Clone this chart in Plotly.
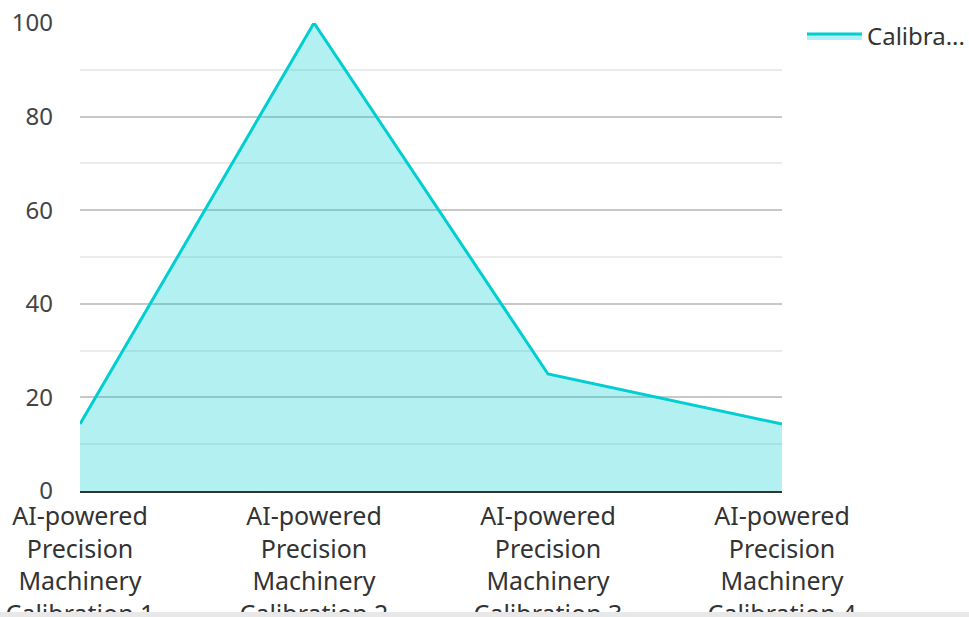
import plotly.graph_objects as go

categories = [
    "AI-powered Precision Machinery Calibration 1",
    "AI-powered Precision Machinery Calibration 2",
    "AI-powered Precision Machinery Calibration 3",
    "AI-powered Precision Machinery Calibration 4",
]
values = [14.3, 100, 25, 14.3]
series_name = "Calibra..."
y_tickvals = [0, 20, 40, 60, 80, 100]


def wrap(label):
    words = label.split(" ")
    lines = [words[0], words[1], words[2], " ".join(words[3:])]
    return "<br>".join(lines)


W, H = 969, 617
L, R, T, B = 80, 782, 23, 491
PH = B - T
PW = R - L

fig = go.Figure()
fig.add_trace(go.Scatter(
    x=[wrap(c) for c in categories],
    y=values,
    mode="lines",
    name=series_name,
    fill="tozeroy",
    fillcolor="rgba(0,206,209,0.3)",
    line=dict(color="#00CED1", width=3),
    showlegend=True,
))

fig.update_layout(
    width=W, height=H,
    margin=dict(l=L, r=W - R, t=T, b=H - B, pad=0, autoexpand=False),
    paper_bgcolor="white",
    plot_bgcolor="white",
    font=dict(family="Noto Sans", size=24, color="#333333"),
    showlegend=True,
    legend=dict(
        x=(802 - L) / PW, y=(B - 14) / PH, xanchor="left", yanchor="top",
        font=dict(size=24, color="#333333"),
        bgcolor="rgba(0,0,0,0)",
        itemwidth=55,
    ),
    xaxis=dict(
        type="category",
        range=[0, len(categories) - 1],
        showgrid=False,
        showline=True, linecolor="#333333", linewidth=2,
        ticks="", ticklabelstandoff=2,
        tickfont=dict(size=25, color="#333333"),
        automargin=False,
        fixedrange=True,
    ),
    yaxis=dict(
        range=[0, 100],
        tickvals=y_tickvals,
        showgrid=True, gridcolor="#c8c8c8", gridwidth=1.5,
        minor=dict(dtick=10, showgrid=True, gridcolor="#ebebeb", gridwidth=1.5),
        zeroline=False,
        showline=False,
        ticks="", ticklabelstandoff=26,
        tickfont=dict(size=24, color="#444444"),
        automargin=False,
        fixedrange=True,
    ),
)

# bottom strip of the container (clips the last label line, as in the reference)
y_clip = (B - 612) / PH
fig.add_shape(type="rect", xref="paper", yref="paper",
              x0=-L / PW, x1=(W - L) / PW, y0=y_clip, y1=(B - H - 5) / PH,
              fillcolor="#e8e8e8", line=dict(width=0), layer="above")

fig.write_html(
    "out.html",
    config={"displayModeBar": False},
    post_script="document.body.style.margin='0';document.body.style.overflow='hidden';",
)
